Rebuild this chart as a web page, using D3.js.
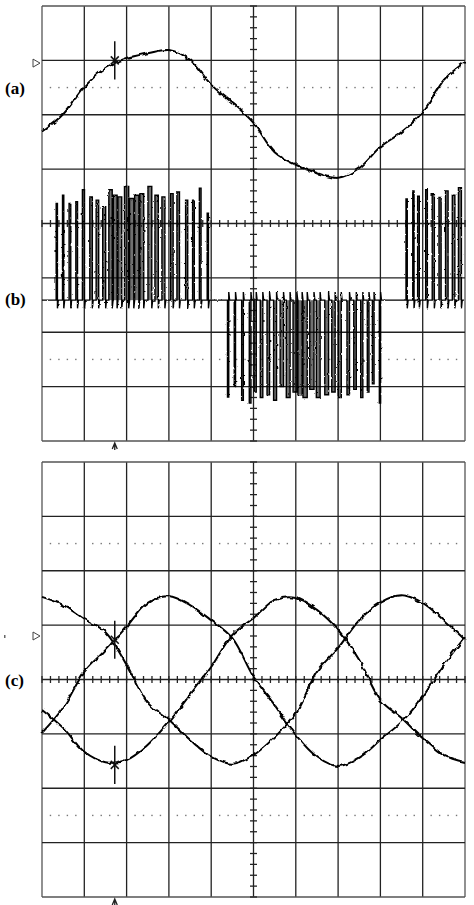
<!DOCTYPE html>
<html>
<head>
<meta charset="utf-8">
<title>Scope traces</title>
<script src="https://d3js.org/d3.v7.min.js"></script>
<style>
  body { margin: 0; background: #fff; }
</style>
</head>
<body>
<script>
// sample times, in screen divisions (10 across)
const samples = [0, 0.5, 1, 1.5, 2, 2.5, 3, 3.5, 4, 4.5, 5, 5.5, 6, 6.5, 7, 7.5, 8, 8.5, 9, 9.5, 10];

// (a) trace, divisions from the top screen centre
const traceA = [1.70, 2.01, 2.51, 2.86, 3.04, 3.13, 3.19, 3.01, 2.55, 2.22, 1.85, 1.31, 1.08, 0.93, 0.84, 1.02, 1.41, 1.68, 2.05, 2.64, 2.97];

// (c) three phases, divisions from the bottom screen centre
const phase1 = [1.52, 1.37, 1.11, 0.87, 0.27, -0.43, -0.74, -1.11, -1.42, -1.55, -1.39, -1.06, -0.62, 0.14, 0.58, 1.09, 1.42, 1.55, 1.41, 1.09, 0.73];
const phase2 = [-0.98, -0.52, 0.14, 0.54, 0.97, 1.41, 1.53, 1.37, 1.09, 0.76, 0.05, -0.47, -1.02, -1.42, -1.59, -1.44, -1.11, -0.78, -0.32, 0.27, 0.78];
const phase3 = [-0.56, -0.89, -1.33, -1.52, -1.48, -1.20, -0.78, -0.28, 0.23, 0.82, 1.13, 1.46, 1.50, 1.28, 0.91, 0.36, -0.38, -0.71, -1.08, -1.39, -1.52];

// (b) pulse train: baseline level, then pulse centre / width / peak per group
const baseB = -1.41;
const ringB = 0.15;
const grp1T = [0.35, 0.50, 0.66, 0.82, 0.98, 1.16, 1.31, 1.47, 1.62, 1.73, 1.84, 2.00, 2.12, 2.24, 2.36, 2.55, 2.71, 2.87, 3.07, 3.22, 3.42, 3.58, 3.74, 3.92];
const grp1W = [0.03, 0.03, 0.04, 0.04, 0.05, 0.06, 0.06, 0.07, 0.08, 0.09, 0.09, 0.10, 0.10, 0.10, 0.09, 0.09, 0.08, 0.07, 0.06, 0.06, 0.05, 0.04, 0.04, 0.03];
const grp1P = [0.37, 0.52, 0.37, 0.40, 0.62, 0.49, 0.43, 0.31, 0.62, 0.52, 0.49, 0.68, 0.46, 0.52, 0.55, 0.68, 0.52, 0.49, 0.55, 0.58, 0.43, 0.43, 0.65, 0.19];
const grp2T = [4.40, 4.56, 4.74, 4.92, 5.04, 5.19, 5.35, 5.51, 5.67, 5.82, 5.98, 6.10, 6.22, 6.38, 6.53, 6.73, 6.89, 7.04, 7.24, 7.40, 7.56, 7.71, 7.83, 7.99];
const grp2W = [0.03, 0.03, 0.04, 0.04, 0.05, 0.06, 0.06, 0.07, 0.08, 0.09, 0.09, 0.10, 0.10, 0.10, 0.09, 0.09, 0.08, 0.07, 0.06, 0.06, 0.05, 0.04, 0.04, 0.03];
const grp2P = [-3.19, -3.00, -3.25, -3.30, -3.10, -3.20, -3.15, -3.25, -3.00, -3.20, -3.10, -3.15, -3.20, -3.05, -3.20, -3.15, -3.10, -3.20, -3.15, -3.05, -3.20, -3.10, -2.95, -3.30];
const grp3T = [8.62, 8.78, 8.90, 9.09, 9.25, 9.41, 9.57, 9.73, 9.88];
const grp3W = [0.03, 0.03, 0.04, 0.04, 0.05, 0.05, 0.06, 0.06, 0.07];
const grp3P = [0.45, 0.60, 0.50, 0.62, 0.55, 0.48, 0.60, 0.52, 0.66];

// markers: cursor crosses, trigger position, ground markers
const cursorT = 1.72;
const cursorsTop = [3.0];
const cursorsBot = [0.73, -1.57];
const groundTop = 2.95, groundBot = 0.80;

const W = 474, H = 905;
const svg = d3.select("body").append("svg").attr("width", W).attr("height", H);
svg.append("rect").attr("width", W).attr("height", H).attr("fill", "#fff");

// scope trace grain
const defs = svg.append("defs");
function grain(id, freq, scale) {
  const f = defs.append("filter").attr("id", id).attr("x", "-5%").attr("y", "-5%").attr("width", "110%").attr("height", "110%");
  f.append("feTurbulence").attr("type", "fractalNoise").attr("baseFrequency", freq).attr("numOctaves", 1).attr("seed", 7).attr("result", "n");
  f.append("feDisplacementMap").attr("in", "SourceGraphic").attr("in2", "n").attr("scale", scale)
    .attr("xChannelSelector", "R").attr("yChannelSelector", "G");
}
grain("rough", 0.18, 4.5);
grain("rough2", 0.3, 2.5);

const x = d3.scaleLinear().domain([0, 10]).range([42, 465]);
const yTop = d3.scaleLinear().domain([-4, 4]).range([441, 6]);
const yBot = d3.scaleLinear().domain([-4, 4]).range([897, 462]);

const minor = d3.range(0, 51).map(i => i / 5);
const minorY = d3.range(-20, 21).map(i => i / 5);

function drawGrid(y) {
  const g = svg.append("g").attr("stroke", "#222").attr("stroke-width", 1.3);
  g.selectAll(null).data(x.ticks(10)).join("line")
    .attr("x1", d => x(d)).attr("x2", d => x(d))
    .attr("y1", y(4)).attr("y2", y(-4))
    .attr("stroke", d => (d === 0 || d === 10) ? "#555" : null);
  g.selectAll(null).data(y.ticks(8)).join("line")
    .attr("x1", x(0)).attr("x2", x(10))
    .attr("y1", d => y(d)).attr("y2", d => y(d))
    .attr("stroke", d => (d === 4 || d === -4) ? "#555" : null);

  // dotted reference rows
  [2.5, -2.5].forEach(v => {
    svg.append("g").selectAll(null).data(minor.filter(m => m % 1 !== 0)).join("rect")
      .attr("x", d => x(d) - 0.7).attr("y", y(v) - 0.7)
      .attr("width", 1.4).attr("height", 1.4).attr("fill", "#777");
  });

  // centre graticule ticks
  g.selectAll(null).data(minor).join("line")
    .attr("x1", d => x(d)).attr("x2", d => x(d))
    .attr("y1", y(0) - 3.5).attr("y2", y(0) + 3.5);
  g.selectAll(null).data(minorY).join("line")
    .attr("x1", x(5) - 3.5).attr("x2", x(5) + 3.5)
    .attr("y1", d => y(d)).attr("y2", d => y(d));
}

drawGrid(yTop);
drawGrid(yBot);

function smoothTrace(y, values) {
  const line = d3.line().x((d, i) => x(samples[i])).y(d => y(d)).curve(d3.curveCatmullRom.alpha(0.5));
  svg.append("path").datum(values).attr("d", line)
    .attr("fill", "none").attr("stroke", "#000").attr("stroke-width", 2)
    .attr("stroke-linejoin", "round").attr("filter", "url(#rough)");
}

smoothTrace(yTop, traceA);
smoothTrace(yBot, phase1);
smoothTrace(yBot, phase2);
smoothTrace(yBot, phase3);

// (b) pulse train
const pulses = [];
[[grp1T, grp1W, grp1P], [grp2T, grp2W, grp2P], [grp3T, grp3W, grp3P]].forEach(([T, Wd, P]) => {
  T.forEach((t, i) => pulses.push({ t: t, w: Wd[i], p: P[i] }));
});
const pts = [[0, baseB]];
pulses.forEach(d => {
  const ring = d.p > baseB ? -ringB : ringB;
  pts.push([d.t - d.w / 2, baseB], [d.t - d.w / 2, d.p], [d.t + d.w / 2, d.p],
           [d.t + d.w / 2, baseB + ring], [d.t + d.w / 2 + 0.02, baseB]);
});
pts.push([10, baseB]);

svg.append("g").selectAll(null).data(pulses).join("rect")
  .attr("x", d => x(d.t - d.w / 2)).attr("width", d => x(d.w) - x(0))
  .attr("y", d => yTop(Math.max(d.p, baseB))).attr("height", d => Math.abs(yTop(d.p) - yTop(baseB)))
  .attr("fill", "#111").attr("opacity", 0.6);

svg.append("path").datum(pts)
  .attr("d", d3.line().x(d => x(d[0])).y(d => yTop(d[1])))
  .attr("fill", "none").attr("stroke", "#000").attr("stroke-width", 1.4)
  .attr("filter", "url(#rough2)");

// cursors
function cursor(y, v) {
  const cx = x(cursorT), cy = y(v);
  const g = svg.append("g").attr("stroke", "#111").attr("stroke-width", 1.5);
  g.append("line").attr("x1", cx).attr("x2", cx).attr("y1", y(v + 0.35)).attr("y2", y(v - 0.35));
  g.append("line").attr("x1", cx - 4).attr("x2", cx + 4).attr("y1", cy - 4).attr("y2", cy + 4);
  g.append("line").attr("x1", cx - 4).attr("x2", cx + 4).attr("y1", cy + 4).attr("y2", cy - 4);
}
cursorsTop.forEach(v => cursor(yTop, v));
cursorsBot.forEach(v => cursor(yBot, v));

// trigger arrows under each screen
[yTop(-4), yBot(-4)].forEach(b => {
  const cx = x(cursorT);
  svg.append("path")
    .attr("d", `M${cx - 2.5},${b + 8} L${cx},${b + 2} L${cx + 2.5},${b + 8} M${cx},${b + 2} L${cx},${b + 9}`)
    .attr("fill", "none").attr("stroke", "#222").attr("stroke-width", 1.3);
});

// ground markers
[[yTop, groundTop], [yBot, groundBot]].forEach(([y, v]) => {
  const cy = y(v);
  svg.append("path").attr("d", `M33,${cy - 4} L40,${cy} L33,${cy + 4} Z`)
    .attr("fill", "#fff").attr("stroke", "#444").attr("stroke-width", 1);
});
svg.append("rect").attr("x", 4).attr("y", yBot(groundBot) - 1).attr("width", 1.5).attr("height", 3).attr("fill", "#666");

// panel labels
const labels = [["(a)", 94], ["(b)", 305], ["(c)", 686]];
labels.forEach(([t, yy]) => {
  svg.append("text").attr("x", 5).attr("y", yy)
    .attr("font-family", "'Liberation Serif', 'Times New Roman', serif")
    .attr("font-weight", "bold").attr("font-size", 17).text(t);
});
</script>
</body>
</html>
